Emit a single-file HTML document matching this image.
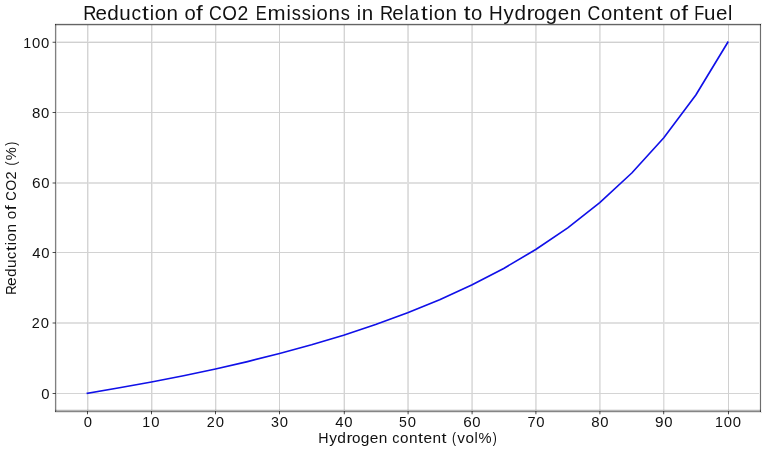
<!DOCTYPE html>
<html><head><meta charset="utf-8"><title>Reduction of CO2 Emissions in Relation to Hydrogen Content of Fuel</title><style>
html,body{margin:0;padding:0;background:#fff;}
svg{display:block;will-change:transform;}
text{font-family:"Liberation Sans",sans-serif;fill:#111;}
</style></head><body>
<svg width="768" height="452" viewBox="0 0 768 452">
<rect width="768" height="452" fill="#fff"/>
<g fill="#000" stroke="none" shape-rendering="crispEdges">
<rect x="87" y="25" width="1" height="385" fill="#d4d4d4"/>
<rect x="88" y="25" width="1" height="385" fill="#ececec"/>
<rect x="151" y="25" width="1" height="385" fill="#d4d4d4"/>
<rect x="152" y="25" width="1" height="385" fill="#ececec"/>
<rect x="215" y="25" width="1" height="385" fill="#d4d4d4"/>
<rect x="216" y="25" width="1" height="385" fill="#f0f0f0"/>
<rect x="279" y="25" width="1" height="385" fill="#d0d0d0"/>
<rect x="343" y="25" width="1" height="385" fill="#eeeeee"/>
<rect x="344" y="25" width="1" height="385" fill="#d4d4d4"/>
<rect x="407" y="25" width="1" height="385" fill="#e1e1e1"/>
<rect x="408" y="25" width="1" height="385" fill="#dedede"/>
<rect x="471" y="25" width="1" height="385" fill="#e4e4e4"/>
<rect x="472" y="25" width="1" height="385" fill="#dedede"/>
<rect x="535" y="25" width="1" height="385" fill="#dedede"/>
<rect x="536" y="25" width="1" height="385" fill="#e4e4e4"/>
<rect x="599" y="25" width="1" height="385" fill="#dedede"/>
<rect x="600" y="25" width="1" height="385" fill="#e6e6e6"/>
<rect x="663" y="25" width="1" height="385" fill="#dcdcdc"/>
<rect x="664" y="25" width="1" height="385" fill="#eeeeee"/>
<rect x="728" y="25" width="1" height="385" fill="#d0d0d0"/>
<g style="mix-blend-mode:darken">
<rect x="57" y="393" width="702" height="1" fill="#d4d4d4"/>
<rect x="57" y="322" width="702" height="1" fill="#e0e0e0"/>
<rect x="57" y="323" width="702" height="1" fill="#e0e0e0"/>
<rect x="57" y="252" width="702" height="1" fill="#d2d2d2"/>
<rect x="57" y="182" width="702" height="1" fill="#e0e0e0"/>
<rect x="57" y="183" width="702" height="1" fill="#e0e0e0"/>
<rect x="57" y="112" width="702" height="1" fill="#d2d2d2"/>
<rect x="57" y="41" width="702" height="1" fill="#ececec"/>
<rect x="57" y="42" width="702" height="1" fill="#d0d0d0"/>
</g>
</g>
<polyline points="87.42,393.21 119.44,387.81 151.46,382.00 183.49,375.73 215.51,368.95 247.53,361.59 279.55,353.57 311.57,344.81 343.60,335.19 375.62,324.58 407.64,312.83 439.66,299.72 471.68,285.02 503.71,268.42 535.73,249.52 567.75,227.81 599.77,202.61 631.79,173.01 663.82,137.74 695.84,95.01 727.86,42.17" fill="none" stroke="#1010e8" stroke-width="1.65" stroke-linejoin="round" stroke-linecap="square"/>
<g shape-rendering="crispEdges">
<rect x="55" y="23" width="707" height="1" fill="#000" fill-opacity="0.090"/>
<rect x="55" y="24" width="706" height="1" fill="#000" fill-opacity="0.608"/>
<rect x="55" y="25" width="706" height="1" fill="#000" fill-opacity="0.153"/>
<rect x="55" y="409" width="706" height="1" fill="#000" fill-opacity="0.075"/>
<rect x="55" y="410" width="706" height="1" fill="#000" fill-opacity="0.294"/>
<rect x="55" y="411" width="706" height="1" fill="#000" fill-opacity="0.478"/>
<rect x="55" y="412" width="707" height="1" fill="#000" fill-opacity="0.106"/>
<rect x="54" y="24" width="1" height="388" fill="#000" fill-opacity="0.027"/>
<rect x="55" y="24" width="1" height="388" fill="#000" fill-opacity="0.498"/>
<rect x="56" y="25" width="1" height="386" fill="#000" fill-opacity="0.145"/>
<rect x="759" y="25" width="1" height="386" fill="#000" fill-opacity="0.059"/>
<rect x="760" y="24" width="1" height="388" fill="#000" fill-opacity="0.569"/>
<rect x="761" y="24" width="1" height="388" fill="#000" fill-opacity="0.039"/>
</g>
<g stroke="#000" stroke-width="0.7">
<line x1="87.50" y1="411.1" x2="87.50" y2="414.30"/>
<line x1="151.50" y1="411.1" x2="151.50" y2="414.30"/>
<line x1="215.50" y1="411.1" x2="215.50" y2="414.30"/>
<line x1="279.50" y1="411.1" x2="279.50" y2="414.30"/>
<line x1="344.30" y1="411.1" x2="344.30" y2="414.30"/>
<line x1="408.10" y1="411.1" x2="408.10" y2="414.30"/>
<line x1="472.10" y1="411.1" x2="472.10" y2="414.30"/>
<line x1="535.90" y1="411.1" x2="535.90" y2="414.30"/>
<line x1="599.90" y1="411.1" x2="599.90" y2="414.30"/>
<line x1="663.70" y1="411.1" x2="663.70" y2="414.30"/>
<line x1="728.50" y1="411.1" x2="728.50" y2="414.30"/>
<line x1="52.60" y1="393.50" x2="55.8" y2="393.50"/>
<line x1="52.60" y1="323.00" x2="55.8" y2="323.00"/>
<line x1="52.60" y1="252.50" x2="55.8" y2="252.50"/>
<line x1="52.60" y1="183.00" x2="55.8" y2="183.00"/>
<line x1="52.60" y1="112.50" x2="55.8" y2="112.50"/>
<line x1="52.60" y1="42.25" x2="55.8" y2="42.25"/>
</g>
<g font-size="14.1"><text transform="translate(87.75,426.80) scale(1.054,1)" x="-3.92">0</text></g>
<g font-size="14.1"><text transform="translate(146.48,426.80) scale(1.007,1)" x="-4.11">1</text><text transform="translate(155.33,426.80) scale(1.054,1)" x="-3.92">0</text></g>
<g font-size="14.1"><text transform="translate(210.83,426.80) scale(1.016,1)" x="-3.92">2</text><text transform="translate(219.98,426.80) scale(1.054,1)" x="-3.92">0</text></g>
<g font-size="14.1"><text transform="translate(274.97,426.80) scale(1.012,1)" x="-3.88">3</text><text transform="translate(283.96,426.80) scale(1.054,1)" x="-3.92">0</text></g>
<g font-size="14.1"><text transform="translate(339.43,426.80) scale(1.054,1)" x="-3.88">4</text><text transform="translate(348.45,426.80) scale(1.054,1)" x="-3.92">0</text></g>
<g font-size="14.1"><text transform="translate(402.81,426.80) scale(0.995,1)" x="-3.91">5</text><text transform="translate(411.85,426.80) scale(1.054,1)" x="-3.92">0</text></g>
<g font-size="14.1"><text transform="translate(467.49,426.80) scale(1.091,1)" x="-3.97">6</text><text transform="translate(476.41,426.80) scale(1.054,1)" x="-3.92">0</text></g>
<g font-size="14.1"><text transform="translate(531.43,426.80) scale(1.031,1)" x="-3.93">7</text><text transform="translate(540.42,426.80) scale(1.054,1)" x="-3.92">0</text></g>
<g font-size="14.1"><text transform="translate(595.35,426.80) scale(1.066,1)" x="-3.92">8</text><text transform="translate(604.32,426.80) scale(1.054,1)" x="-3.92">0</text></g>
<g font-size="14.1"><text transform="translate(659.24,426.80) scale(1.089,1)" x="-3.92">9</text><text transform="translate(668.26,426.80) scale(1.054,1)" x="-3.92">0</text></g>
<g font-size="14.1"><text transform="translate(719.15,426.80) scale(1.007,1)" x="-4.11">1</text><text transform="translate(727.99,426.80) scale(1.054,1)" x="-3.92">0</text><text transform="translate(736.96,426.80) scale(1.054,1)" x="-3.92">0</text></g>
<g font-size="14.1"><text transform="translate(45.36,398.55) scale(1.054,1)" x="-3.92">0</text></g>
<g font-size="14.1"><text transform="translate(35.81,328.15) scale(1.016,1)" x="-3.92">2</text><text transform="translate(44.96,328.15) scale(1.054,1)" x="-3.92">0</text></g>
<g font-size="14.1"><text transform="translate(36.24,257.65) scale(1.054,1)" x="-3.88">4</text><text transform="translate(45.26,257.65) scale(1.054,1)" x="-3.92">0</text></g>
<g font-size="14.1"><text transform="translate(36.34,188.05) scale(1.091,1)" x="-3.97">6</text><text transform="translate(45.26,188.05) scale(1.054,1)" x="-3.92">0</text></g>
<g font-size="14.1"><text transform="translate(36.19,117.75) scale(1.066,1)" x="-3.92">8</text><text transform="translate(45.16,117.75) scale(1.054,1)" x="-3.92">0</text></g>
<g font-size="14.1"><text transform="translate(27.25,47.55) scale(1.007,1)" x="-4.11">1</text><text transform="translate(36.09,47.55) scale(1.054,1)" x="-3.92">0</text><text transform="translate(45.06,47.55) scale(1.054,1)" x="-3.92">0</text></g>
<g font-size="19.6"><text transform="translate(90.10,19.70) scale(0.931,1)" x="-7.43">R</text><text transform="translate(101.10,19.70) scale(1.051,1)" x="-5.43">e</text><text transform="translate(112.67,19.70) scale(1.058,1)" x="-5.23">d</text><text transform="translate(125.05,19.70) scale(1.050,1)" x="-5.44">u</text><text transform="translate(136.34,19.70) scale(0.977,1)" x="-5.06">c</text><text transform="translate(145.41,19.70) scale(1.250,1)" x="-2.80">t</text><text transform="translate(151.78,19.70) scale(0.995,1)" x="-2.17">i</text><text transform="translate(160.27,19.70) scale(1.035,1)" x="-5.45">o</text><text transform="translate(172.20,19.70) scale(1.050,1)" x="-5.46">n</text><text transform="translate(190.10,19.70) scale(1.035,1)" x="-5.45">o</text><text transform="translate(199.69,19.70) scale(1.250,1)" x="-2.88">f</text><text transform="translate(215.40,19.70) scale(0.904,1)" x="-7.20">C</text><text transform="translate(229.55,19.70) scale(0.962,1)" x="-7.62">O</text><text transform="translate(242.87,19.70) scale(0.989,1)" x="-5.45">2</text><text transform="translate(261.61,19.70) scale(0.844,1)" x="-6.92">E</text><text transform="translate(276.66,19.70) scale(1.109,1)" x="-8.17">m</text><text transform="translate(288.56,19.70) scale(0.995,1)" x="-2.17">i</text><text transform="translate(296.22,19.70) scale(0.933,1)" x="-4.82">s</text><text transform="translate(306.16,19.70) scale(0.933,1)" x="-4.82">s</text><text transform="translate(313.74,19.70) scale(0.995,1)" x="-2.17">i</text><text transform="translate(322.23,19.70) scale(1.035,1)" x="-5.45">o</text><text transform="translate(334.16,19.70) scale(1.050,1)" x="-5.46">n</text><text transform="translate(345.17,19.70) scale(0.933,1)" x="-4.82">s</text><text transform="translate(358.81,19.70) scale(0.995,1)" x="-2.17">i</text><text transform="translate(367.56,19.70) scale(1.050,1)" x="-5.46">n</text><text transform="translate(386.91,19.70) scale(0.931,1)" x="-7.43">R</text><text transform="translate(397.90,19.70) scale(1.051,1)" x="-5.43">e</text><text transform="translate(406.41,19.70) scale(0.995,1)" x="-2.18">l</text><text transform="translate(414.61,19.70) scale(0.875,1)" x="-5.87">a</text><text transform="translate(424.52,19.70) scale(1.250,1)" x="-2.80">t</text><text transform="translate(430.88,19.70) scale(0.995,1)" x="-2.17">i</text><text transform="translate(439.37,19.70) scale(1.035,1)" x="-5.45">o</text><text transform="translate(451.31,19.70) scale(1.050,1)" x="-5.46">n</text><text transform="translate(467.13,19.70) scale(1.250,1)" x="-2.80">t</text><text transform="translate(476.68,19.70) scale(1.035,1)" x="-5.45">o</text><text transform="translate(495.75,19.70) scale(0.968,1)" x="-7.08">H</text><text transform="translate(508.57,19.70) scale(1.045,1)" x="-4.90">y</text><text transform="translate(519.93,19.70) scale(1.058,1)" x="-5.23">d</text><text transform="translate(531.12,19.70) scale(1.247,1)" x="-3.75">r</text><text transform="translate(539.60,19.70) scale(1.035,1)" x="-5.45">o</text><text transform="translate(551.14,19.70) scale(1.058,1)" x="-5.23">g</text><text transform="translate(563.43,19.70) scale(1.051,1)" x="-5.43">e</text><text transform="translate(575.38,19.70) scale(1.050,1)" x="-5.46">n</text><text transform="translate(594.12,19.70) scale(0.904,1)" x="-7.20">C</text><text transform="translate(606.60,19.70) scale(1.035,1)" x="-5.45">o</text><text transform="translate(618.53,19.70) scale(1.050,1)" x="-5.46">n</text><text transform="translate(628.29,19.70) scale(1.250,1)" x="-2.80">t</text><text transform="translate(637.89,19.70) scale(1.051,1)" x="-5.43">e</text><text transform="translate(649.85,19.70) scale(1.050,1)" x="-5.46">n</text><text transform="translate(659.61,19.70) scale(1.250,1)" x="-2.80">t</text><text transform="translate(675.22,19.70) scale(1.035,1)" x="-5.45">o</text><text transform="translate(684.82,19.70) scale(1.250,1)" x="-2.88">f</text><text transform="translate(699.71,19.70) scale(0.834,1)" x="-6.40">F</text><text transform="translate(709.76,19.70) scale(1.050,1)" x="-5.44">u</text><text transform="translate(721.75,19.70) scale(1.051,1)" x="-5.43">e</text><text transform="translate(730.26,19.70) scale(0.995,1)" x="-2.18">l</text></g>
<g font-size="14.4"><text transform="translate(323.38,443.40) scale(0.988,1)" x="-5.20">H</text><text transform="translate(332.99,443.40) scale(1.066,1)" x="-3.60">y</text><text transform="translate(341.50,443.40) scale(1.079,1)" x="-3.84">d</text><text transform="translate(349.89,443.40) scale(1.250,1)" x="-2.76">r</text><text transform="translate(356.24,443.40) scale(1.056,1)" x="-4.00">o</text><text transform="translate(364.90,443.40) scale(1.079,1)" x="-3.84">g</text><text transform="translate(374.10,443.40) scale(1.073,1)" x="-3.99">e</text><text transform="translate(383.06,443.40) scale(1.071,1)" x="-4.01">n</text><text transform="translate(395.98,443.40) scale(0.996,1)" x="-3.72">c</text><text transform="translate(404.34,443.40) scale(1.056,1)" x="-4.00">o</text><text transform="translate(413.28,443.40) scale(1.071,1)" x="-4.01">n</text><text transform="translate(420.59,443.40) scale(1.250,1)" x="-2.06">t</text><text transform="translate(427.79,443.40) scale(1.073,1)" x="-3.99">e</text><text transform="translate(436.75,443.40) scale(1.071,1)" x="-4.01">n</text><text transform="translate(444.06,443.40) scale(1.250,1)" x="-2.06">t</text><text transform="translate(454.22,443.40) scale(0.839,1)" x="-2.80">(</text><text transform="translate(461.20,443.40) scale(1.072,1)" x="-3.60">v</text><text transform="translate(469.81,443.40) scale(1.056,1)" x="-4.00">o</text><text transform="translate(476.17,443.40) scale(1.015,1)" x="-1.60">l</text><text transform="translate(484.95,443.40) scale(1.020,1)" x="-6.40">%</text><text transform="translate(494.49,443.40) scale(0.839,1)" x="-1.99">)</text></g>
<g font-size="14.4"><text transform="translate(16.20,289.87) rotate(-90) scale(0.950,1)" x="-5.46">R</text><text transform="translate(16.20,281.63) rotate(-90) scale(1.073,1)" x="-3.99">e</text><text transform="translate(16.20,272.96) rotate(-90) scale(1.079,1)" x="-3.84">d</text><text transform="translate(16.20,263.67) rotate(-90) scale(1.071,1)" x="-3.99">u</text><text transform="translate(16.20,255.22) rotate(-90) scale(0.996,1)" x="-3.72">c</text><text transform="translate(16.20,248.41) rotate(-90) scale(1.250,1)" x="-2.06">t</text><text transform="translate(16.20,243.64) rotate(-90) scale(1.015,1)" x="-1.60">i</text><text transform="translate(16.20,237.28) rotate(-90) scale(1.056,1)" x="-4.00">o</text><text transform="translate(16.20,228.34) rotate(-90) scale(1.071,1)" x="-4.01">n</text><text transform="translate(16.20,214.92) rotate(-90) scale(1.056,1)" x="-4.00">o</text><text transform="translate(16.20,207.73) rotate(-90) scale(1.250,1)" x="-2.11">f</text><text transform="translate(16.20,195.97) rotate(-90) scale(0.922,1)" x="-5.29">C</text><text transform="translate(16.20,185.36) rotate(-90) scale(0.982,1)" x="-5.60">O</text><text transform="translate(16.20,175.37) rotate(-90) scale(1.009,1)" x="-4.00">2</text><text transform="translate(16.20,163.26) rotate(-90) scale(0.839,1)" x="-2.80">(</text><text transform="translate(16.20,153.71) rotate(-90) scale(1.020,1)" x="-6.40">%</text><text transform="translate(16.20,144.17) rotate(-90) scale(0.839,1)" x="-1.99">)</text></g>
</svg>
</body></html>
